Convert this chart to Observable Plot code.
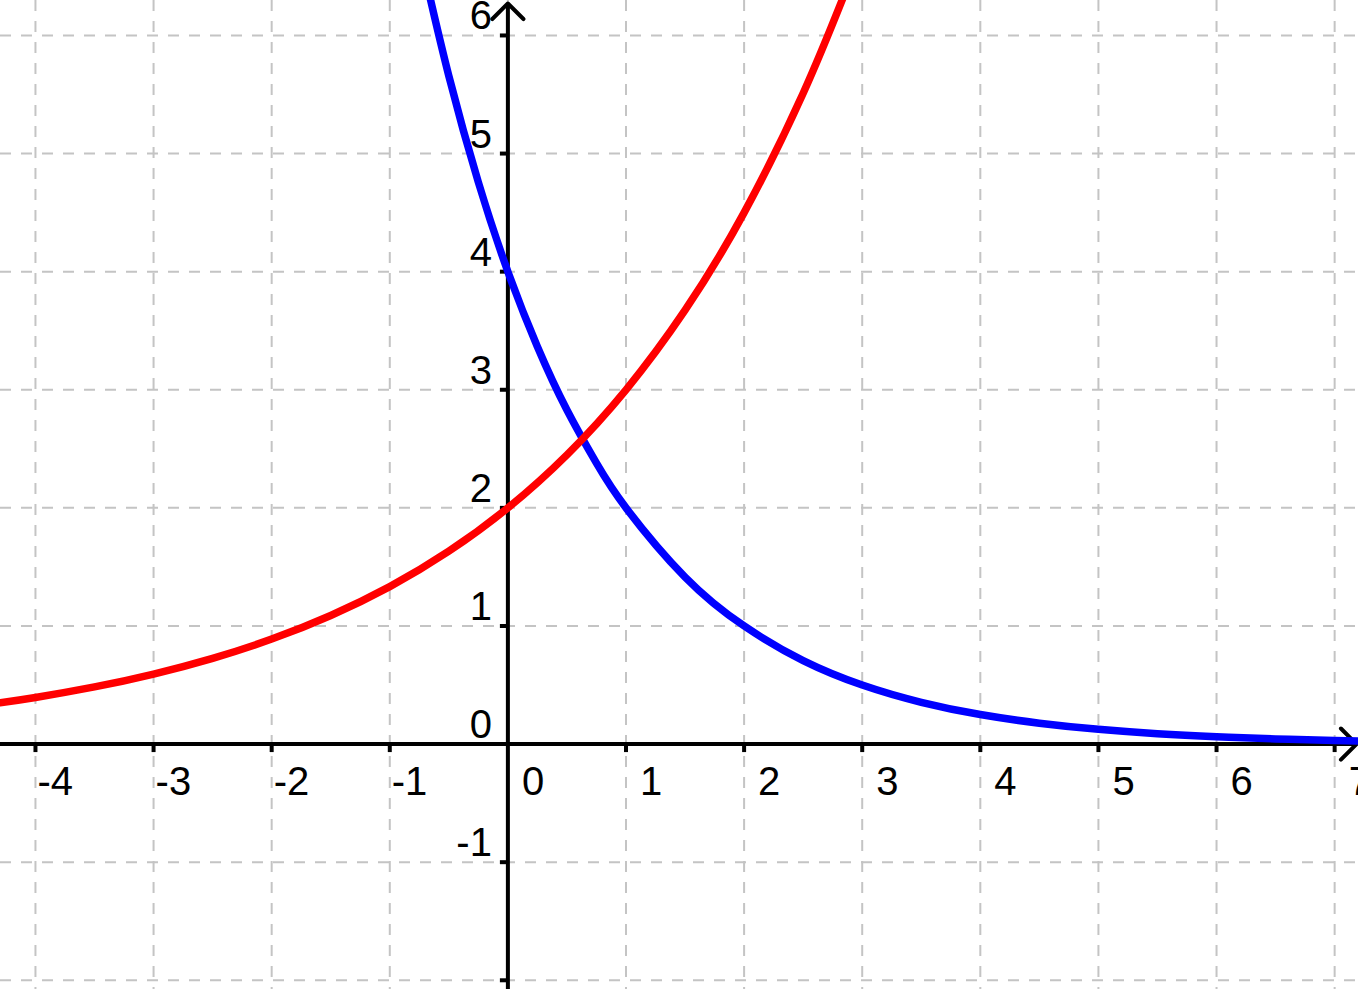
<!DOCTYPE html>
<html>
<head>
<meta charset="utf-8">
<script src="https://cdn.jsdelivr.net/npm/d3@7"></script>
<script src="https://cdn.jsdelivr.net/npm/@observablehq/plot@0.6"></script>
<style>
  html, body { margin: 0; padding: 0; background: #ffffff; }
  #chart svg { display: block; }
</style>
</head>
<body>
<div id="chart"></div>
<script>
// Red curve (increasing)
const redX = [-4.3, -4, -3.5, -3, -2.5, -2, -1.5, -1, -0.5, 0, 0.5, 1, 1.5, 2, 2.5, 2.85];
const redY = [0.35, 0.395, 0.484, 0.593, 0.726, 0.889, 1.089, 1.333, 1.633, 2, 2.449, 3, 3.674, 4.5, 5.511, 6.35];

// Blue curve (decreasing)
const blueX = [-0.7, -0.5, -0.25, 0, 0.25, 0.5, 0.75, 1, 1.5, 2, 2.5, 3, 3.5, 4, 4.5, 5, 5.5, 6, 6.5, 7, 7.25];
const blueY = [6.498, 5.657, 4.757, 4, 3.364, 2.828, 2.378, 2, 1.414, 1, 0.707, 0.5, 0.354, 0.25, 0.177, 0.125, 0.088, 0.0625, 0.044, 0.031, 0.026];

// Grid / tick values and labels
const gridXs = [-4, -3, -2, -1, 0, 1, 2, 3, 4, 5, 6, 7];
const gridYs = [-2, -1, 0, 1, 2, 3, 4, 5, 6];
const xTickVals = [-4, -3, -2, -1, 1, 2, 3, 4, 5, 6, 7];
const yTickVals = [-2, -1, 1, 2, 3, 4, 5, 6];
const xLabelVals = [-4, -3, -2, -1, 0, 1, 2, 3, 4, 5, 6, 7];
const yLabelVals = [-1, 0, 1, 2, 3, 4, 5, 6];

// Visible window (data units)
const xDomain = [-4.296, 7.202];
const yDomain = [-2.078, 6.296];

const red = redX.map((x, i) => ({x, y: redY[i]}));
const blue = blueX.map((x, i) => ({x, y: blueY[i]}));

const axesArrows = [
  {x1: xDomain[0], y1: 0, x2: 7.185, y2: 0},
  {x1: 0, y1: yDomain[0], x2: 0, y2: 6.271}
];

const tickDown = {draw(ctx) { ctx.moveTo(0, 0); ctx.lineTo(0, 8); }};
const tickLeft = {draw(ctx) { ctx.moveTo(0, 0); ctx.lineTo(-8, 0); }};

const chart = Plot.plot({
  width: 1358,
  height: 989,
  margin: 0,
  x: {domain: xDomain, axis: null},
  y: {domain: yDomain, axis: null},
  style: {fontFamily: "'Liberation Sans', Arial, sans-serif", fontSize: "40px", background: "#ffffff", color: "#000"},
  marks: [
    Plot.gridX(gridXs, {stroke: "#c4c4c4", strokeOpacity: 1, strokeWidth: 2, strokeDasharray: "11,10"}),
    Plot.gridY(gridYs, {stroke: "#c4c4c4", strokeOpacity: 1, strokeWidth: 2, strokeDasharray: "11,10"}),
    Plot.arrow(axesArrows, {x1: "x1", y1: "y1", x2: "x2", y2: "y2", stroke: "#000", strokeWidth: 4, headAngle: 90, headLength: 8.25}),
    Plot.dot(xTickVals, {x: d => d, y: () => 0, symbol: tickDown, stroke: "#000", strokeWidth: 4, fill: "none"}),
    Plot.dot(yTickVals, {x: () => 0, y: d => d, symbol: tickLeft, stroke: "#000", strokeWidth: 4, fill: "none"}),
    Plot.text(xLabelVals.filter(v => v < 0), {x: d => d, y: () => 0, text: d => String(d), textAnchor: "start", lineAnchor: "bottom", dx: 2, dy: 51, fill: "#000"}),
    Plot.text(xLabelVals.filter(v => v >= 0), {x: d => d, y: () => 0, text: d => String(d), textAnchor: "start", lineAnchor: "bottom", dx: 14, dy: 51, fill: "#000"}),
    Plot.text(yLabelVals, {x: () => 0, y: d => d, text: d => String(d), textAnchor: "end", lineAnchor: "bottom", dx: -16, dy: -6, fill: "#000"}),
    Plot.line(blue, {x: "x", y: "y", stroke: "#0000ff", strokeWidth: 7.5, curve: "natural", clip: true}),
    Plot.line(red, {x: "x", y: "y", stroke: "#ff0000", strokeWidth: 7.5, curve: "natural", clip: true})
  ]
});
document.getElementById("chart").append(chart);
</script>
</body>
</html>
